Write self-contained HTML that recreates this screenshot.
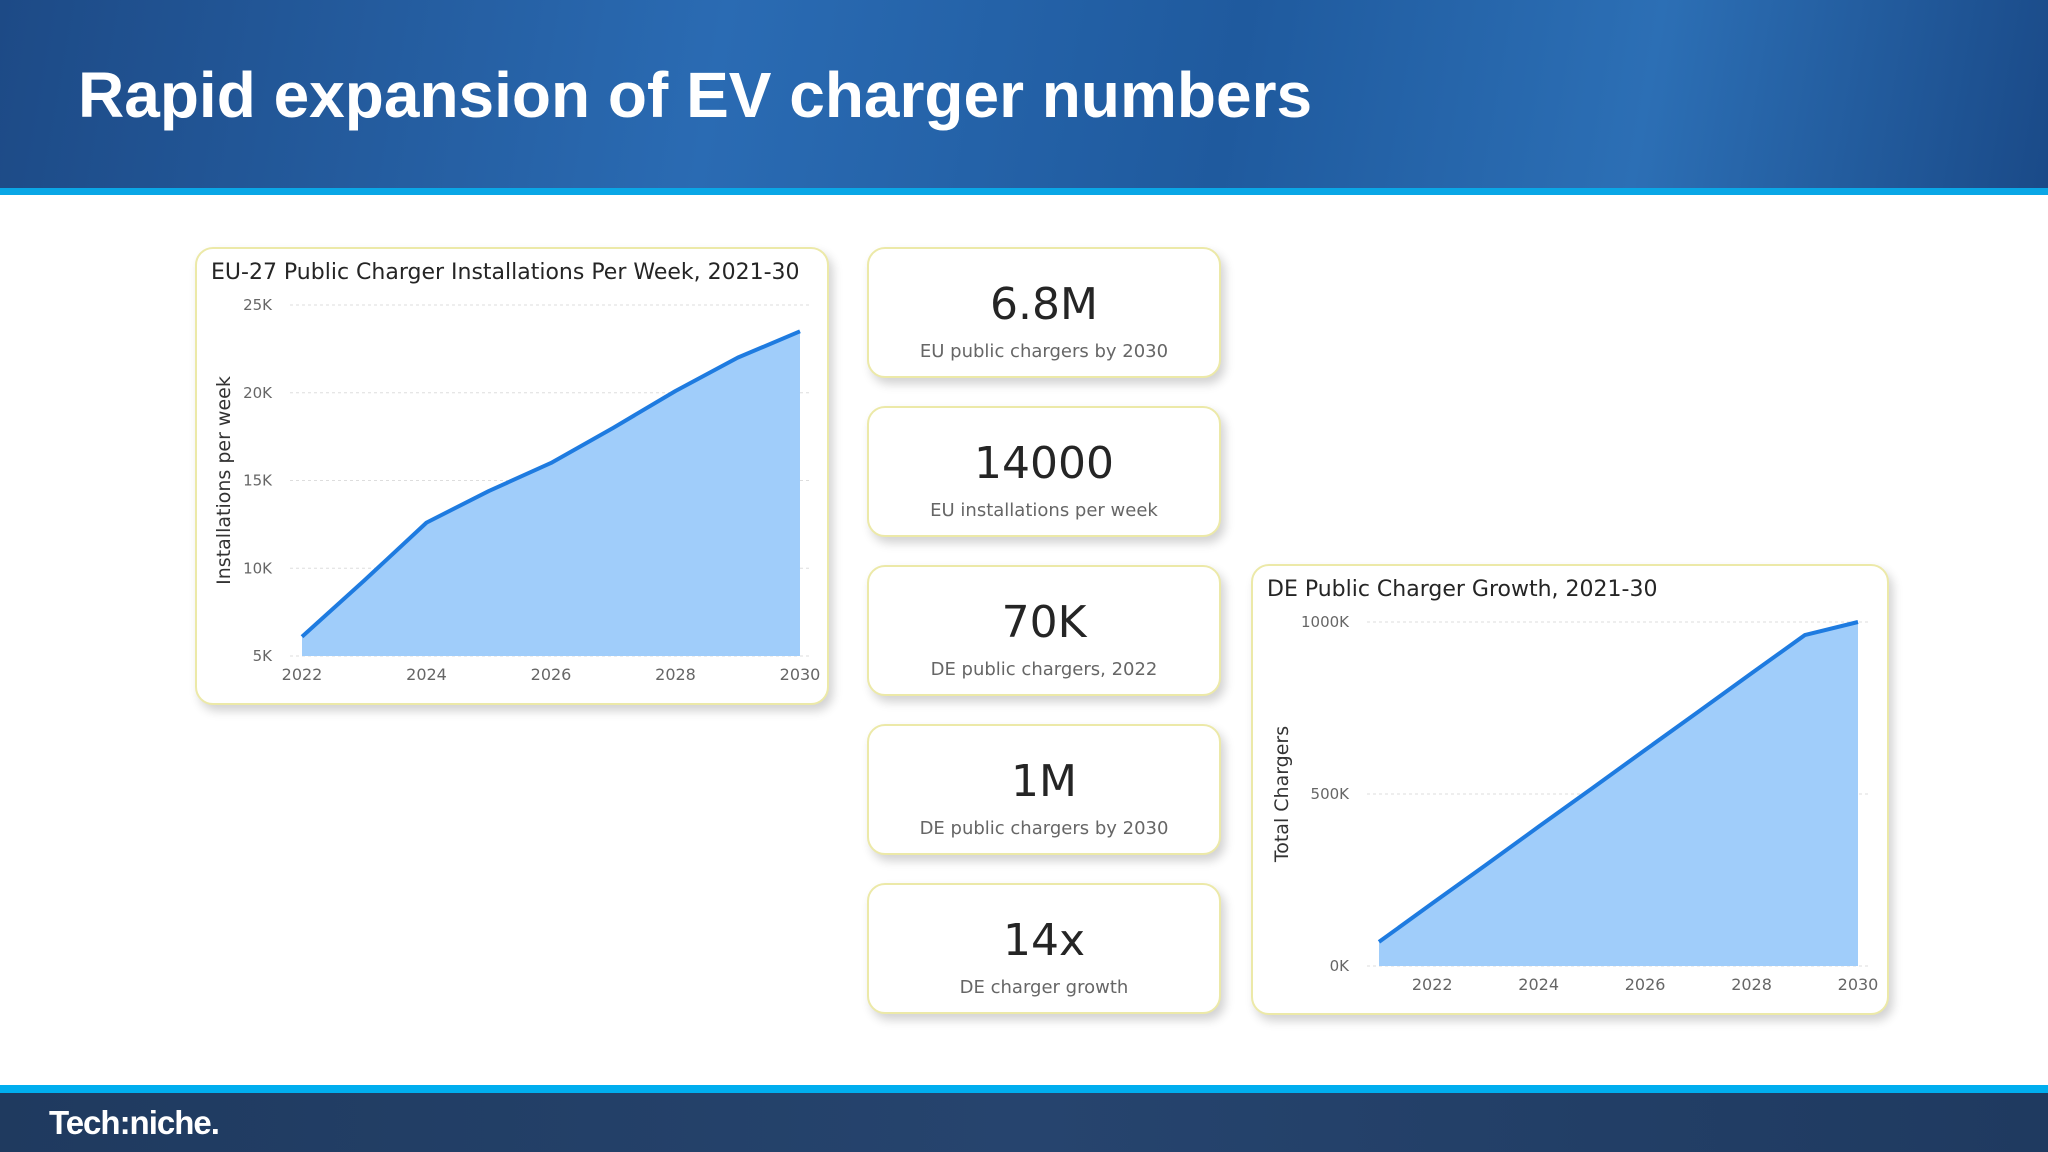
<!DOCTYPE html>
<html><head><meta charset="utf-8"><style>
*{margin:0;padding:0;box-sizing:border-box}
body{width:2048px;height:1152px;position:relative;background:#fff;font-family:"Liberation Sans",sans-serif;overflow:hidden}
#header{position:absolute;left:0;top:0;width:2048px;height:188px;background:linear-gradient(100deg,#1d4a86 0%,#2a6bb3 35%,#1f5a9e 60%,#2c6fb5 80%,#1a4a88 100%)}
#hstripe{position:absolute;left:0;top:188px;width:2048px;height:7px;background:#0aa7e6}
#title{position:absolute;left:78px;top:58px;color:#fff;font-weight:bold;font-size:64px;white-space:nowrap}
#fstripe{position:absolute;left:0;top:1085px;width:2048px;height:8px;background:#00aeef}
#footer{position:absolute;left:0;top:1093px;width:2048px;height:59px;background:linear-gradient(90deg,#1f3a5f,#26446e 50%,#1f3a60)}
#logo{position:absolute;left:49px;top:1104px;color:#fff;font-weight:bold;font-size:33px;letter-spacing:-1px}
.card{position:absolute;background:#fff;border:2px solid #ece9a8;border-radius:18px;box-shadow:4px 6px 10px rgba(0,0,0,0.18)}
.kpi{left:867px;width:354px;height:131px;text-align:center}
.kv{font-family:"DejaVu Sans","Liberation Sans",sans-serif;font-size:44px;color:#252525;margin-top:32px;line-height:48px}
.kl{font-family:"DejaVu Sans","Liberation Sans",sans-serif;font-size:18px;color:#666;margin-top:12px}
svg text{font-family:"DejaVu Sans","Liberation Sans",sans-serif}
</style></head><body>
<div id="header"></div>
<div id="hstripe"></div>
<div id="title">Rapid expansion of EV charger numbers</div>

<div class="card" style="left:195px;top:247px;width:634px;height:458px">
<svg id="eu" width="634" height="458"></svg></div>

<div class="card kpi" style="top:247px"><div class="kv">6.8M</div><div class="kl">EU public chargers by 2030</div></div>
<div class="card kpi" style="top:406px"><div class="kv">14000</div><div class="kl">EU installations per week</div></div>
<div class="card kpi" style="top:565px"><div class="kv">70K</div><div class="kl">DE public chargers, 2022</div></div>
<div class="card kpi" style="top:724px"><div class="kv">1M</div><div class="kl">DE public chargers by 2030</div></div>
<div class="card kpi" style="top:883px"><div class="kv">14x</div><div class="kl">DE charger growth</div></div>

<div class="card" style="left:1251px;top:564px;width:638px;height:451px">
<svg id="de" width="638" height="451"></svg></div>

<div id="fstripe"></div>
<div id="footer"></div>
<div id="logo">Tech:niche.</div>
<script>
const euYears=[2022,2023,2024,2025,2026,2027,2028,2029,2030];
const euValues=[6100,9300,12600,14400,16000,18000,20100,22000,23500];
const euTicks=[5000,10000,15000,20000,25000];
const euTickLabels=["5K","10K","15K","20K","25K"];
const euXLabels=[2022,2024,2026,2028,2030];
const deYears=[2021,2022,2023,2024,2025,2026,2027,2028,2029,2030];
const deValues=[70000,182000,293000,405000,516000,628000,739000,851000,962000,1000000];
const deTicks=[0,500000,1000000];
const deTickLabels=["0K","500K","1000K"];
const deXLabels=[2022,2024,2026,2028,2030];
const NS="http://www.w3.org/2000/svg";
function mk(svg,tag,attrs,txt){const e=document.createElementNS(NS,tag);for(const k in attrs)e.setAttribute(k,attrs[k]);if(txt!==undefined)e.textContent=txt;svg.appendChild(e);return e;}
function chart(id,cfg){
 const svg=document.getElementById(id);
 const x=v=>cfg.x0+(v-cfg.xmin)/(cfg.xmax-cfg.xmin)*(cfg.x1-cfg.x0);
 const y=v=>cfg.y0-(v-cfg.ymin)/(cfg.ymax-cfg.ymin)*(cfg.y0-cfg.y1);
 let t=mk(svg,'text',{x:14,y:cfg.ty,'font-size':22,fill:'#252525'},cfg.title);
 
 cfg.ticks.forEach((v,i)=>{
  let g=mk(svg,'line',{x1:cfg.x0-12,x2:cfg.x1+12,y1:y(v),y2:y(v),stroke:'#ddd','stroke-dasharray':'3,3'});
  
  let l=mk(svg,'text',{x:cfg.x0-30,y:y(v)+5,'font-size':15,fill:'#666','text-anchor':'end'},cfg.tickLabels[i]);
  
 });
 cfg.xl.forEach(v=>{
  let l=mk(svg,'text',{x:x(v),y:cfg.y0+24,'font-size':16,fill:'#666','text-anchor':'middle'},v);
  
 });
 let pts=cfg.xs.map((v,i)=>x(v)+','+y(cfg.vals[i]));
 let a=mk(svg,'polygon',{points:x(cfg.xs[0])+','+cfg.y0+' '+pts.join(' ')+' '+x(cfg.xs[cfg.xs.length-1])+','+cfg.y0,fill:'#a0cdfa'});
 
 let p=mk(svg,'polyline',{points:pts.join(' '),fill:'none',stroke:'#1e7be0','stroke-width':4,'stroke-linejoin':'round'});
 
 let yt=mk(svg,'text',{transform:'translate('+cfg.ytx+','+((cfg.y0+cfg.y1)/2)+') rotate(-90)','font-size':19,fill:'#333','text-anchor':'middle'},cfg.ytitle);
 
}
chart('eu',{title:'EU-27 Public Charger Installations Per Week, 2021-30',ty:30,x0:105,x1:603,y0:407,y1:56,xmin:2022,xmax:2030,ymin:5000,ymax:25000,ticks:euTicks,tickLabels:euTickLabels,xl:euXLabels,xs:euYears,vals:euValues,ytitle:'Installations per week',ytx:33});
chart('de',{title:'DE Public Charger Growth, 2021-30',ty:30,x0:126,x1:605,y0:400,y1:56,xmin:2021,xmax:2030,ymin:0,ymax:1000000,ticks:deTicks,tickLabels:deTickLabels,xl:deXLabels,xs:deYears,vals:deValues,ytitle:'Total Chargers',ytx:35});
</script>
</body></html>
